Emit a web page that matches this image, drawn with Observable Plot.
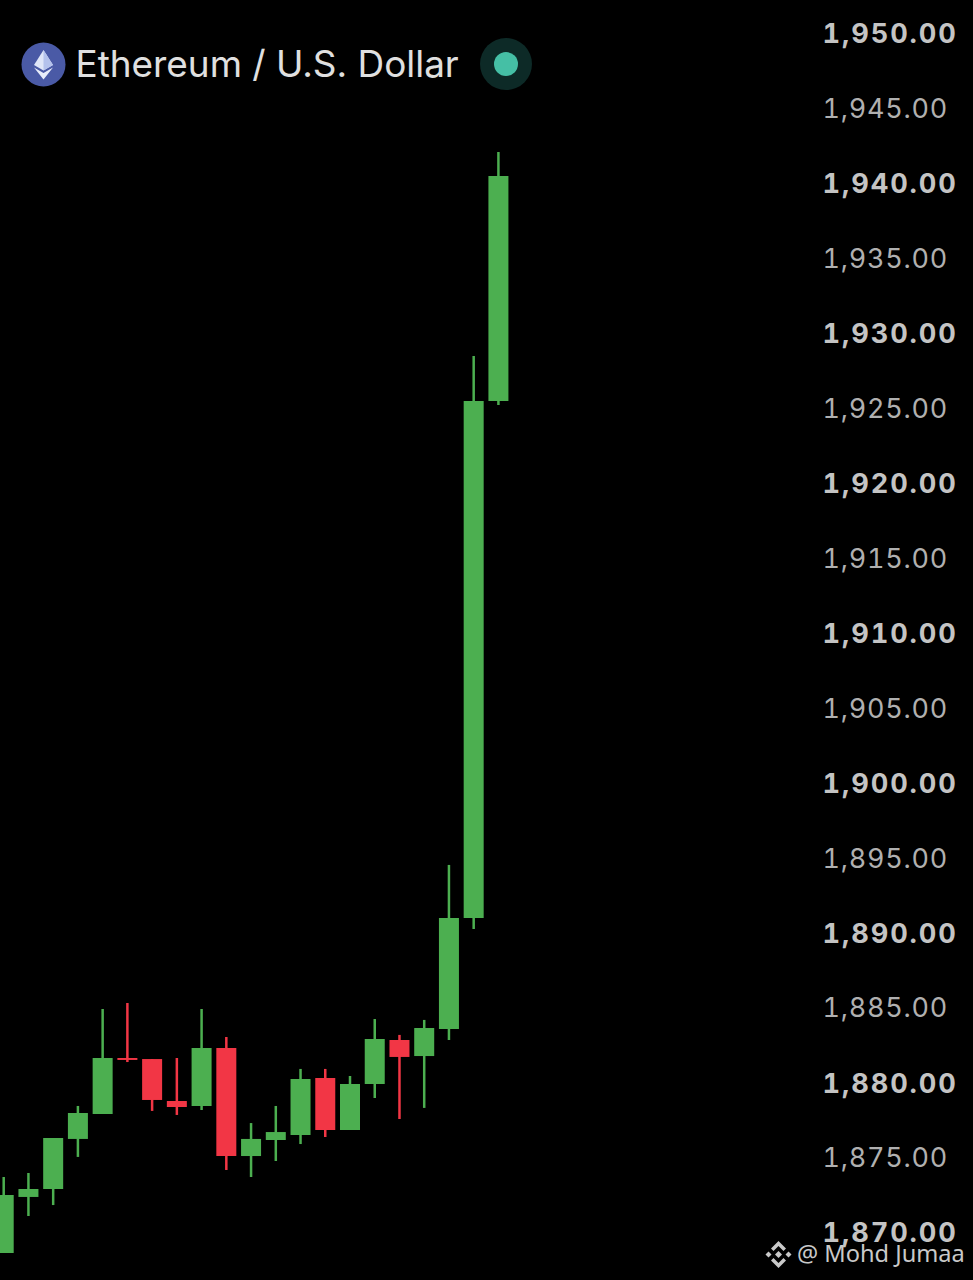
<!DOCTYPE html>
<html>
<head>
<meta charset="utf-8">
<script src="https://cdn.jsdelivr.net/npm/d3@7"></script>
<script src="https://cdn.jsdelivr.net/npm/@observablehq/plot@0.6"></script>
<style>
html,body{margin:0;padding:0;background:#000;width:973px;height:1280px;overflow:hidden}
#wrap{position:relative;width:973px;height:1280px}
#wrap svg.chart g[font-weight="400"] text{letter-spacing:0.75px}
#wrap svg.chart g[font-weight="700"] text{letter-spacing:1.9px}
#title{position:absolute;left:75.5px;top:41px;font:400 36.9px/46px Inter,"Noto Sans",sans-serif;color:#e0e0e0;white-space:nowrap}
#eth{position:absolute;left:21px;top:42px}
#dot{position:absolute;left:479px;top:37px}
#credit{position:absolute;left:797px;top:1238px;font:400 23.6px/30px "Noto Sans",sans-serif;color:#c9c9c9;white-space:nowrap}
#bn{position:absolute;left:764px;top:1240px}
</style>
</head>
<body>
<div id="wrap"></div>
<script>
const opens  = [1868.61,1872.35,1872.88,1876.22,1877.89,1881.62,1881.55,1878.75,1878.42,1882.29,1875.08,1876.15,1876.48,1880.29,1876.82,1879.89,1882.82,1881.75,1883.56,1890.96,1925.45];
const closes = [1872.48,1872.88,1876.28,1877.95,1881.62,1881.49,1878.82,1878.35,1882.29,1875.08,1876.22,1876.68,1880.22,1876.82,1879.89,1882.89,1881.69,1883.62,1890.96,1925.45,1940.46];
const highs  = [1873.68,1873.95,1876.28,1878.42,1884.89,1885.29,1881.55,1881.62,1884.89,1883.02,1877.28,1878.42,1880.89,1880.89,1880.42,1884.22,1883.16,1884.16,1894.50,1928.45,1942.06];
const lows   = [1868.61,1871.08,1871.81,1875.02,1877.89,1881.35,1878.09,1877.82,1878.15,1874.15,1873.68,1874.75,1875.88,1876.35,1876.82,1878.95,1877.55,1878.29,1882.82,1890.23,1925.18];
const majorTicks = [1870,1880,1890,1900,1910,1920,1930,1940,1950];
const minorTicks = [1875,1885,1895,1905,1915,1925,1935,1945];

const candles = opens.map((open,i)=>({i,open,close:closes[i],high:highs[i],low:lows[i],dir:closes[i]>=open?"up":"down"}));
const fmt = d3.format(",.2f");

const chart = Plot.plot({
  width:973,height:1280,
  marginLeft:0,marginRight:150,marginTop:0,marginBottom:0,
  style:{background:"#000",overflow:"hidden"},
  x:{domain:[-0.1415,33.13],axis:null},
  y:{domain:[1866.81,1952.2],range:[1280,0]},
  color:{domain:["up","down"],range:["#4caf50","#f23645"]},
  marks:[
    Plot.ruleX(candles,{x:"i",dx:-0.3,y1:"low",y2:"high",stroke:"dir",strokeWidth:2.5}),
    Plot.ruleX(candles,{x:"i",dx:-0.3,y1:"open",y2:"close",stroke:"dir",strokeWidth:20}),
    Plot.axisY({anchor:"right",ticks:minorTicks,tickSize:0,tickPadding:0,dy:1,dx:-1,tickFormat:fmt,fontSize:27,fontWeight:400,fill:"#b0b0b0",fontFamily:"Inter",label:null}),
    Plot.axisY({anchor:"right",ticks:majorTicks,tickSize:0,tickPadding:0,dy:1,dx:-1,tickFormat:fmt,fontSize:27.2,fontWeight:700,fill:"#c4c4c4",fontFamily:"Inter",label:null})
  ]
});
chart.classList.add("chart");
const wrap = document.getElementById("wrap");
wrap.appendChild(chart);

const overlay = document.createElement("div");
overlay.innerHTML = `
<svg id="eth" width="45" height="45" viewBox="0 0 45 45">
  <circle cx="22.5" cy="22.5" r="22" fill="#4a5aa6"/>
  <polygon points="22.5,8 13,23 22.5,28.5 32,23" fill="#dfe6f8"/>
  <polygon points="22.5,8 22.5,28.5 32,23" fill="#b4c2ec"/>
  <polygon points="13,25.5 22.5,37.5 32,25.5 22.5,31" fill="#e8edfb"/>
</svg>
<div id="title">Ethereum / U.S. Dollar</div>
<svg id="dot" width="54" height="54" viewBox="0 0 54 54">
  <circle cx="27" cy="27" r="26" fill="#0d2a27"/>
  <circle cx="27" cy="27" r="12" fill="#45bfa5"/>
</svg>
<svg id="bn" width="29" height="29" viewBox="0 0 29 29" fill="#c9c9c9">
  <polygon points="14.5,1 22,8.5 19.5,11 14.5,6 9.5,11 7,8.5"/>
  <polygon points="14.5,28 22,20.5 19.5,18 14.5,23 9.5,18 7,20.5"/>
  <polygon points="14.5,11 18,14.5 14.5,18 11,14.5"/>
  <polygon points="4.5,11.5 7.5,14.5 4.5,17.5 1.5,14.5"/>
  <polygon points="24.5,11.5 27.5,14.5 24.5,17.5 21.5,14.5"/>
</svg>
<div id="credit">@ Mohd Jumaa</div>`;
wrap.appendChild(overlay);
</script>
</body>
</html>
